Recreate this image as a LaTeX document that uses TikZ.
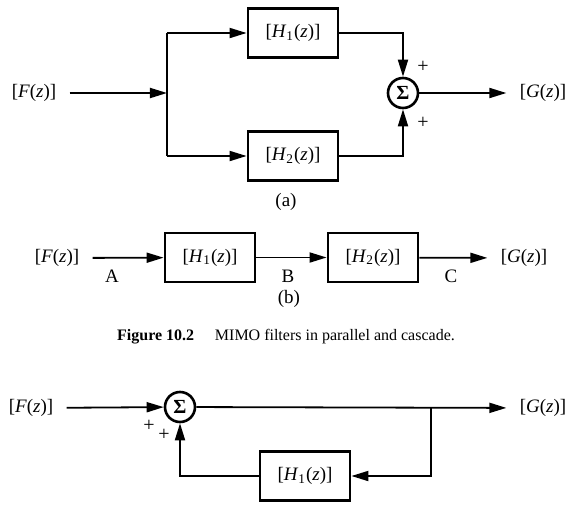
\documentclass[tikz,border=0pt]{standalone}
\usepackage{fontspec}
\setmainfont{Liberation Serif}
\usetikzlibrary{arrows.meta}

\newcommand{\sigvec}[1]{[\textit{#1}(\textit{z})]}
\newcommand{\filtvec}[1]{[\textit{H}\textsubscript{#1}(\textit{z})]}

\tikzset{
  sig/.style={line width=0.9pt,-{Triangle[length=8.5pt,width=5pt]}},
  wire/.style={line width=0.9pt},
  blockbox/.style={draw,line width=1.4pt,minimum width=45pt,minimum height=24.5pt,inner sep=0pt},
  sumnode/.style={draw,circle,line width=1.3pt,minimum size=15pt,inner sep=0pt,font=\fontsize{10}{11}\selectfont\bfseries},
  terminal/.style={inner sep=6.5pt},
  sign/.style={inner sep=0pt,font=\fontsize{10}{11}\selectfont}
}

\begin{document}
\begin{tikzpicture}[x=0.5pt,y=-0.5pt,font=\fontsize{9.5}{11}\selectfont]
        \useasboundingbox (0,0) rectangle (575,510);

        % (a) parallel
        \node[terminal] (fa) at (34,93) {\sigvec{F}};
        \coordinate (split) at (167,93);
        \node[blockbox] (ha1) at (293,33) {\filtvec{1}};
        \node[blockbox] (ha2) at (293,156) {\filtvec{2}};
        \node[sumnode] (suma) at (403,93) {Σ};
        \node[terminal] (ga) at (543,93) {\sigvec{G}};
        \node[sign] (pa1) at (423,67) {+};
        \node[sign] (pa2) at (423,123) {+};
        \node (capa) at (286,202) {(a)};

        \draw[sig] (fa) -- (split);
        \draw[wire] (split |- ha1) -- (split |- ha2);
        \draw[sig] (split |- ha1) -- (ha1);
        \draw[sig] (split |- ha2) -- (ha2);
        \draw[sig] (ha1) -| (suma);
        \draw[sig] (ha2) -| (suma);
        \draw[sig] (suma) -- (ga);

        % (b) cascade
        \node[terminal] (fb) at (57,258) {\sigvec{F}};
        \node[blockbox] (hb1) at (210,257.5) {\filtvec{1}};
        \node[blockbox] (hb2) at (373,257.5) {\filtvec{2}};
        \node[terminal] (gb) at (524,258) {\sigvec{G}};
        \node (pta) at (112,276) {A};
        \node (ptb) at (288,276) {B};
        \node (ptc) at (451,276) {C};
        \node (capb) at (289,299) {(b)};

        \draw[sig] (fb) -- (hb1);
        \draw[sig] (hb1) -- (hb2);
        \draw[sig] (hb2) -- (gb);

        \node[font=\fontsize{8}{10}\selectfont] (caption) at (286,337)
          {\textbf{Figure 10.2}\hspace{1.3em}MIMO filters in parallel and cascade.};

        % feedback
        \node[terminal] (fc) at (31,408) {\sigvec{F}};
        \node[sumnode] (sumc) at (180,407) {Σ};
        \node[terminal] (gc) at (543,408) {\sigvec{G}};
        \coordinate (tap) at (431,407);
        \node[blockbox] (hc) at (305,476) {\filtvec{1}};
        \node[sign] (pc1) at (149,426) {+};
        \node[sign] (pc2) at (164,435) {+};

        \draw[sig] (fc) -- (sumc);
        \draw[sig] (sumc) -- (gc);
        \draw[sig] (tap) |- (hc);
        \draw[sig] (hc) -| (sumc);

    \end{tikzpicture}
\end{document}
